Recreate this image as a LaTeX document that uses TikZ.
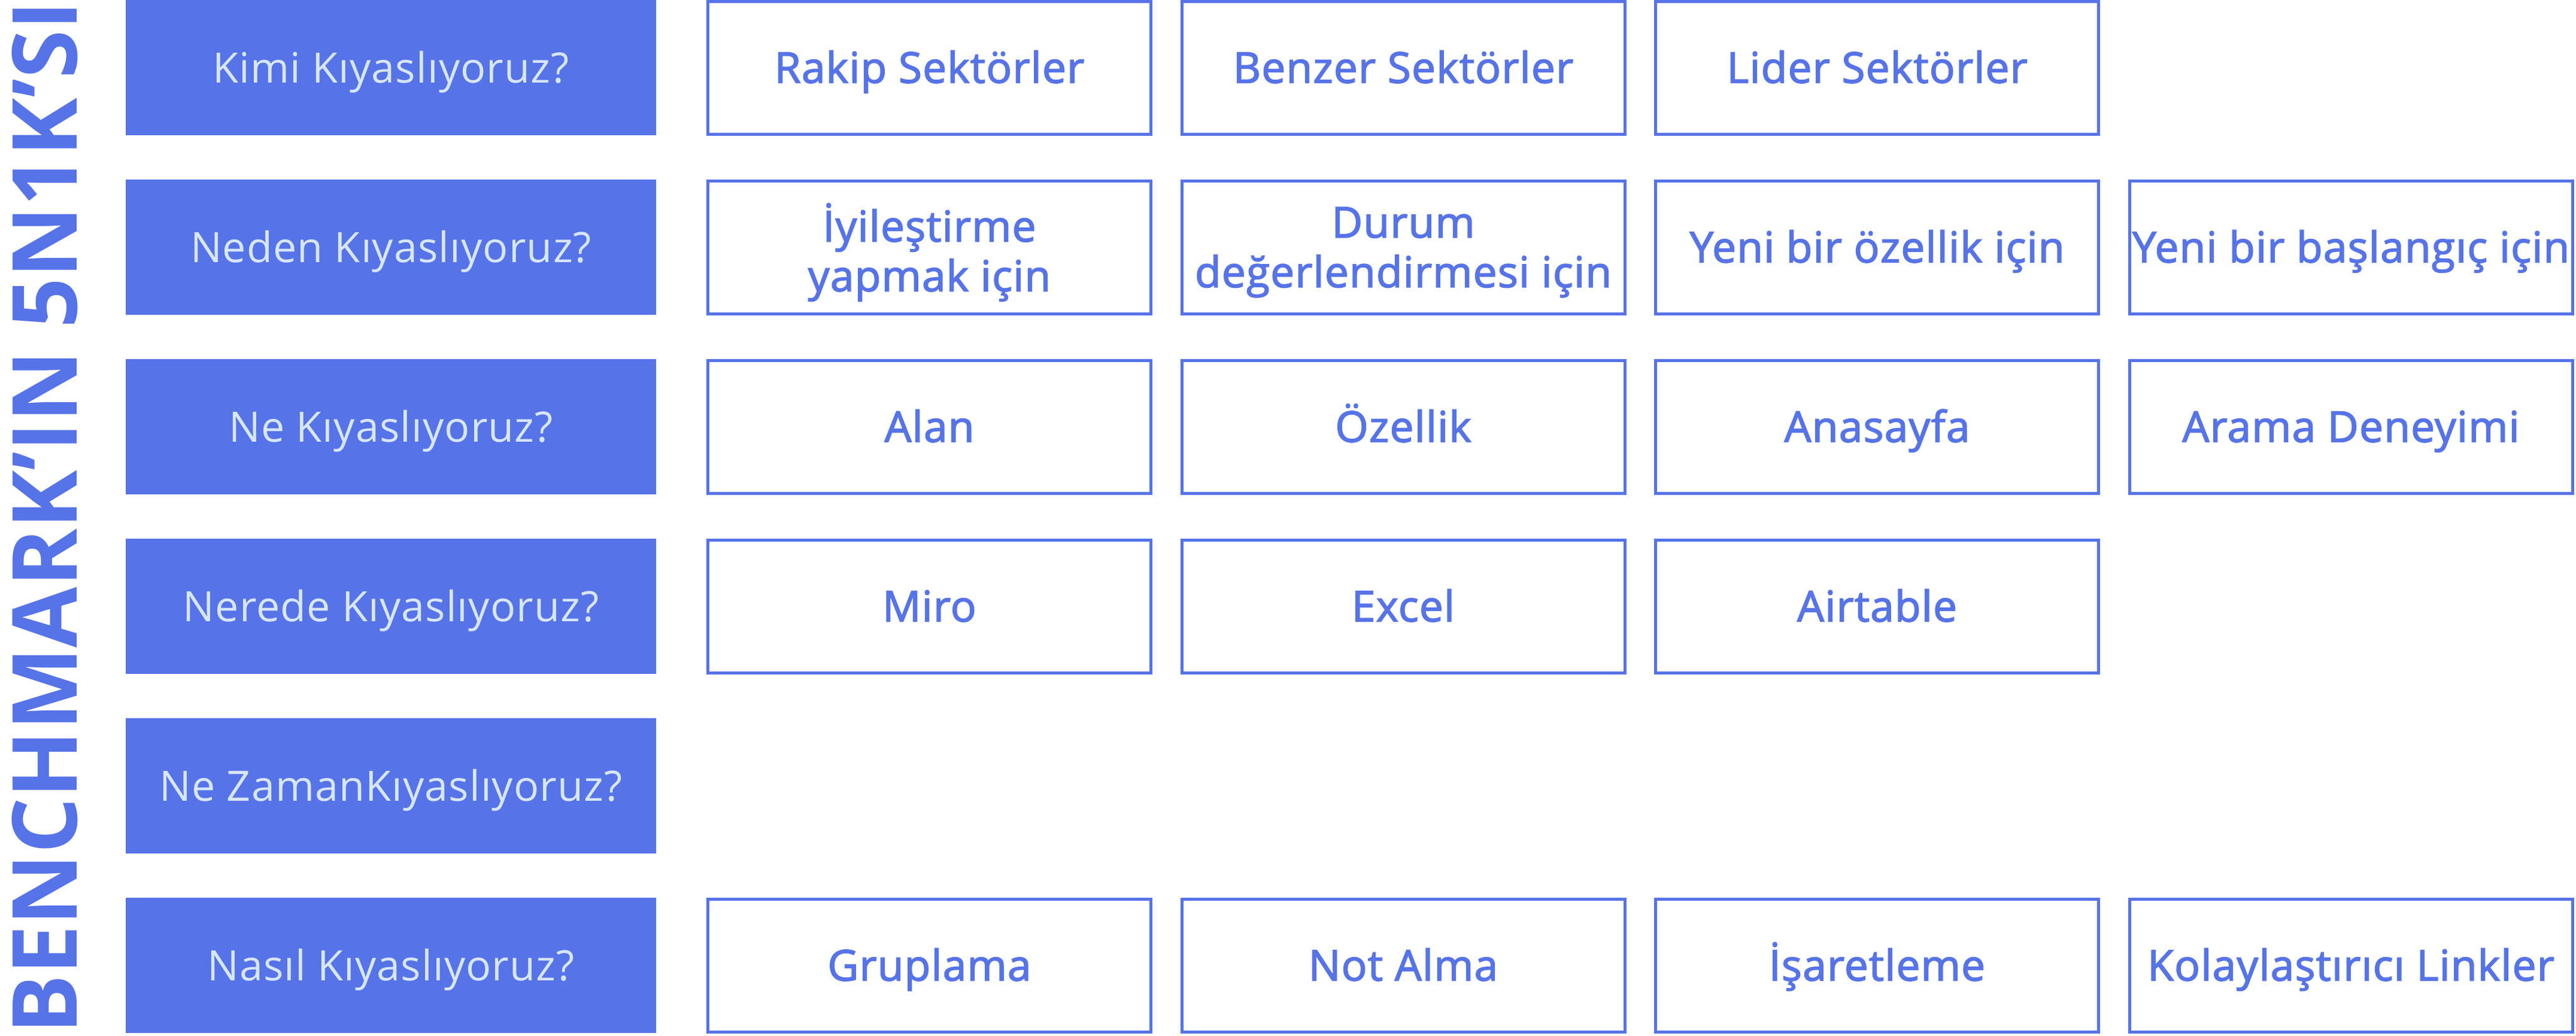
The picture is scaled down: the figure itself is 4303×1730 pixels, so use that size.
\documentclass[tikz,border=0pt]{standalone}
\usepackage{fontspec}
\setmainfont{Open Sans}
\newfontfamily\qfont{Open Sans}[LetterSpace=1.6]
\newfontfamily\sbfont{Open Sans}[FakeBold=2.2,LetterSpace=1.7]
\newfontfamily\ttlfont{Open Sans}
\definecolor{qblue}{HTML}{5673E8}
\definecolor{qtext}{HTML}{D7E6F8}
\newcommand{\twoln}[2]{\rule[-41.5pt]{0pt}{66.9pt}\makebox[0pt]{#1}\raisebox{-41.5pt}[0pt][0pt]{\makebox[0pt]{#2}}}
\tikzset{
  qbox/.style={fill=qblue, draw=none, minimum width=443pt, minimum height=113pt,
    inner sep=0pt, outer sep=0pt, text=qtext, text height=25pt, text depth=0pt,
    font=\qfont\fontsize{35}{41.5}\selectfont},
  abase/.style={draw=qblue, line width=2.5pt, fill=white, minimum width=370pt,
    minimum height=111pt, inner sep=0pt, outer sep=0pt, text=qblue,
    font=\sbfont\fontsize{35.6}{41.5}\selectfont},
  abox/.style={abase, text height=25.4pt, text depth=0pt},
  abox2/.style={abase},
  ttl/.style={rotate=90, anchor=base, inner sep=0pt, text=qblue,
    font=\ttlfont\bfseries\fontsize{75}{80}\selectfont}
}
\begin{document}
\begin{tikzpicture}[x=0.5pt,y=-0.5pt]
\useasboundingbox (0,0) rectangle (4303,1730);
\node[ttl] (title) at (128,864.5) {\resizebox{862.5pt}{\height}{BENCHMARK’IN 5N1K’SI}};
% question boxes
\node[qbox] (q1) at (653,113) {Kimi Kıyaslıyoruz?};
\node[qbox] (q2) at (653,413) {Neden Kıyaslıyoruz?};
\node[qbox] (q3) at (653,713) {Ne Kıyaslıyoruz?};
\node[qbox] (q4) at (653,1013) {Nerede Kıyaslıyoruz?};
\node[qbox] (q5) at (653,1313) {Ne ZamanKıyaslıyoruz?};
\node[qbox] (q6) at (653,1613) {Nasıl Kıyaslıyoruz?};
% row 1
\node[abox] (a11) at (1552.5,113) {Rakip Sektörler};
\node[abox] (a12) at (2344,113) {Benzer Sektörler};
\node[abox] (a13) at (3135.5,113) {Lider Sektörler};
% row 2
\node[abox2] (a21) at (1552.5,413) {\twoln{İyileştirme}{yapmak için}};
\node[abox2] (a22) at (2344,413) {\twoln{Durum}{değerlendirmesi için}};
\node[abox] (a23) at (3135.5,413) {Yeni bir özellik için};
\node[abox] (a24) at (3927,413) {Yeni bir başlangıç için};
% row 3
\node[abox] (a31) at (1552.5,713) {Alan};
\node[abox] (a32) at (2344,713) {Özellik};
\node[abox] (a33) at (3135.5,713) {Anasayfa};
\node[abox] (a34) at (3927,713) {Arama Deneyimi};
% row 4
\node[abox] (a41) at (1552.5,1013) {Miro};
\node[abox] (a42) at (2344,1013) {Excel};
\node[abox] (a43) at (3135.5,1013) {Airtable};
% row 6
\node[abox] (a61) at (1552.5,1613) {Gruplama};
\node[abox] (a62) at (2344,1613) {Not Alma};
\node[abox] (a63) at (3135.5,1613) {İşaretleme};
\node[abox] (a64) at (3927,1613) {Kolaylaştırıcı Linkler};
\end{tikzpicture}
\end{document}
